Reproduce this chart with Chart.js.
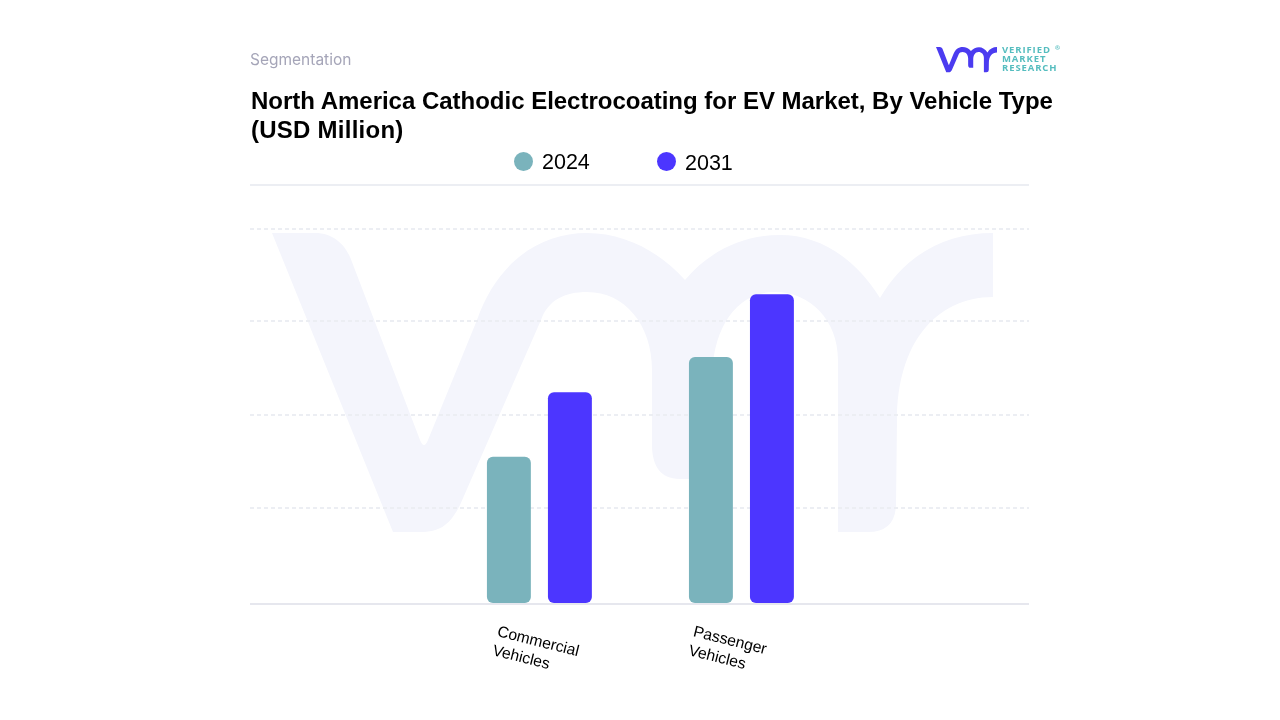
<!DOCTYPE html>
<html>
<head>
<meta charset="utf-8">
<title>Segmentation</title>
<script src="https://cdn.jsdelivr.net/npm/chart.js@4"></script>
<style>
  html, body { margin: 0; background: #fff; overflow: hidden; }
  #page { position: relative; width: 1280px; height: 720px; font-family: "Liberation Sans", Arial, sans-serif; }
  #page > * { position: absolute; }
  #shape { left: 0; top: 0; }
  #chart { left: 0; top: 0; }
  .sub { left: 250px; top: 50px; font: 15.5px Inter, sans-serif; color: #a5a5b8; }
  .title { left: 251px; font-weight: bold; font-size: 24px; line-height: 30px; color: #000; white-space: nowrap; }
  .title.first { top: 86px; letter-spacing: -0.015px; }
  .title.second { top: 115px; letter-spacing: 0.25px; }
  .dot { width: 19px; height: 19px; border-radius: 50%; top: 152px; }
  .year { font-size: 21.5px; line-height: 26px; color: #000; }
  .brand { left: 1002px; font: bold 9.5px/10px "Open Sans", sans-serif; letter-spacing: 0.9px; color: #55bdbf; white-space: nowrap; }
</style>
</head>
<body>
<div id="page">
  <svg id="shape" width="1280" height="720">
    <defs>
      <path id="vmr" d="M272 233 L315 233 C335 233 347 247 352 262 L420 440 Q424 450 428 440 L477 320 C497 262 540 233 587 233 C625 233 660 252 685 280 C710 250 745 235 780 235 C820 235 855 258 880 298 C905 255 945 233 993 233 L993 297 C935 297 897 345 897 420 L896 505 Q895 532 868 532 L838 532 L838 360 C838 320 810 292 775 292 C735 292 712 330 712 380 L712 479 L680 479 C660 479 652 465 652 445 L652 370 C652 325 625 292 587 292 C565 292 548 300 541 320 L460 505 C450 525 440 532 420 532 L393 532 Z"/>
    </defs>
    <use href="#vmr" fill="#f4f5fc"/>
    <use href="#vmr" fill="#4b3bf0" transform="translate(936 47) scale(0.0846) translate(-272 -233)"/>
  </svg>
  <canvas id="chart" width="1280" height="720"></canvas>
  <div class="sub">Segmentation</div>
  <div class="title first">North America Cathodic Electrocoating for EV Market, By Vehicle Type</div>
  <div class="title second">(USD Million)</div>
  <div class="dot" id="dot0" style="left:514px"></div>
  <div class="year" id="year0" style="left:542px;top:149px"></div>
  <div class="dot" id="dot1" style="left:657px"></div>
  <div class="year" id="year1" style="left:685px;top:150px"></div>
  <div class="brand" style="top:45px">VERIFIED</div>
  <div class="brand" style="top:54px">MARKET</div>
  <div class="brand" style="top:63px">RESEARCH</div>
  <div class="brand" style="left:1055px;top:43px;font-size:6px;letter-spacing:0">®</div>
</div>

<script>
// Values (y axis has no labels, so units are relative)
const categories = [['Commercial', 'Vehicles'], ['Passenger', 'Vehicles']];
const seriesNames = ['2024', '2031'];
const values2024 = [31.4, 52.7];
const values2031 = [45.2, 66.1];
const yTicks = [0, 20.5, 40.4, 60.3, 80, 89.4];

const seriesColors = ['#7ab3bc', '#4c36ff'];
const labelStartX = [-43, -49];

seriesNames.forEach((name, i) => {
  document.getElementById('year' + i).textContent = name;
  document.getElementById('dot' + i).style.background = seriesColors[i];
});

const toPoints = (values) => values.map((v, i) => ({ x: i, y: v }));

// Rotated, left aligned category labels under the base line
const slantedLabels = {
  id: 'slantedLabels',
  afterDraw(chart) {
    const { ctx, scales } = chart;
    ctx.save();
    ctx.font = '15.7px "Liberation Sans", Arial, sans-serif';
    ctx.fillStyle = '#000';
    ctx.textAlign = 'left';
    categories.forEach((lines, i) => {
      ctx.save();
      ctx.translate(scales.x.getPixelForTick(i) + labelStartX[i], scales.y.bottom + 32);
      ctx.rotate(14 * Math.PI / 180);
      lines.forEach((line, n) => ctx.fillText(line, 0, n * 19.5));
      ctx.restore();
    });
    ctx.restore();
  }
};

new Chart(document.getElementById('chart').getContext('2d'), {
  type: 'bar',
  data: {
    datasets: [
      { label: seriesNames[0], data: toPoints(values2024), backgroundColor: seriesColors[0] },
      { label: seriesNames[1], data: toPoints(values2031), backgroundColor: seriesColors[1] }
    ]
  },
  options: {
    responsive: false,
    animation: false,
    layout: { padding: { left: 250, right: 251, top: 185, bottom: 108 } },
    datasets: {
      bar: { barPercentage: 0.72, categoryPercentage: 0.604, borderRadius: 6, borderSkipped: false }
    },
    plugins: { legend: { display: false }, tooltip: { enabled: false } },
    scales: {
      x: {
        type: 'linear',
        offset: false,
        min: -1.4325,
        max: 2.4235,
        afterBuildTicks: (axis) => { axis.ticks = categories.map((c, i) => ({ value: i })); },
        ticks: { display: false },
        grid: { display: false },
        border: { display: false }
      },
      y: {
        min: 0,
        max: yTicks[yTicks.length - 1],
        afterBuildTicks: (axis) => { axis.ticks = yTicks.map((v) => ({ value: v })); },
        ticks: { display: false },
        grid: {
          color: (ctx) => (ctx.index === 0 ? '#e6e7ee' : '#eceef3'),
          lineWidth: 2,
          drawTicks: false
        },
        border: {
          display: false,
          dash: (ctx) => (ctx.index === 0 || ctx.index === yTicks.length - 1 ? [] : [4, 3])
        }
      }
    }
  },
  plugins: [slantedLabels]
});
</script>
</body>
</html>
